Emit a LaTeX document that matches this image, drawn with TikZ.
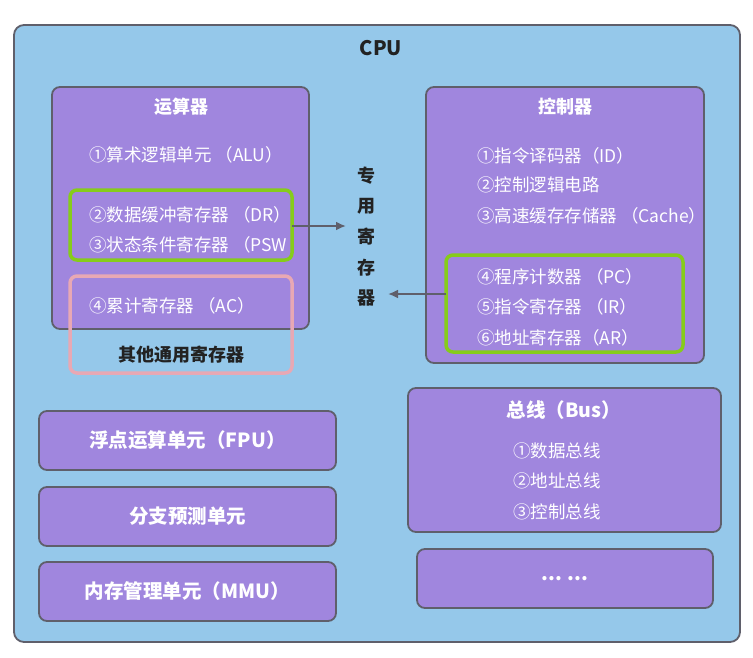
\documentclass[tikz,border=0pt]{standalone}
\usepackage{fontspec}
\setmainfont{Liberation Sans}
\newfontfamily\cjk{Noto Sans CJK SC}
\usetikzlibrary{arrows.meta}
\begin{document}
\begin{tikzpicture}[x=1pt,y=-1pt,
  box/.style={draw=bordc,line width=1.8pt,fill=purp,rounded corners=8pt},
  grn/.style={draw=grnc,line width=3.5pt,rounded corners=7pt},
  pnk/.style={draw=pnkc,line width=3.5pt,rounded corners=7pt},
  wt/.style={text=white,font=\cjk\fontsize{17.5}{20}\selectfont,anchor=west,inner sep=0pt},
  tt/.style={text=white,font=\cjk\bfseries\fontsize{18}{20}\selectfont},
  bt/.style={text=white,font=\cjk\bfseries\fontsize{19.5}{22}\selectfont},
  arr/.style={draw=arrc,line width=2pt,-{Latex[length=10pt,width=9pt]}}]
\definecolor{bg}{HTML}{95C8EA}
\definecolor{purp}{HTML}{A086DE}
\definecolor{bordc}{HTML}{5F5F6B}
\definecolor{grnc}{HTML}{86CC1A}
\definecolor{pnkc}{HTML}{E8A8B4}
\definecolor{arrc}{HTML}{5F5F6B}
\definecolor{dk}{HTML}{222222}
\useasboundingbox (0,0) rectangle (753,657);
\fill[white] (0,0) rectangle (753,657);
\draw[draw=bordc,line width=1.8pt,fill=bg,rounded corners=10pt] (14,25) rectangle (740,642);
\node[font=\cjk\bfseries\fontsize{20}{22}\selectfont,text=dk] (cpu) at (381,48) {CPU};
% ALU box
\draw[box] (52,87) rectangle (309,329);
\node[tt] (ys) at (181,107) {运算器};
\node[wt] (a1) at (89,155) {①算术逻辑单元 （ALU）};
\node[wt] (a2) at (89,215) {②数据缓冲寄存器 （DR）};
\node[wt] (a3) at (89,245) {③状态条件寄存器 （PSW};
\node[wt] (a4) at (89,306) {④累计寄存器 （AC）};
\draw[grn] (70,190) rectangle (292,260);
\draw[pnk] (70,276) rectangle (292,373);
\node[font=\cjk\bfseries\fontsize{18}{20}\selectfont,text=dk] (ty) at (181,355) {其他通用寄存器};
\coordinate (g1r) at (292,226);
% special regs
\foreach \ch/\yy [count=\i] in {专/176,用/206,寄/237,存/268,器/298}
  \node[font=\cjk\bfseries\fontsize{18}{20}\selectfont,text=dk] (zy\i) at (366,\yy) {\ch};
\coordinate (zyl) at (346,226);
\coordinate (zyr) at (388,294);
% control
\draw[box] (426,87) rectangle (704,363);
\node[tt] (kz) at (565,107) {控制器};
\node[wt] (c1) at (477,156) {①指令译码器（ID）};
\node[wt] (c2) at (477,185) {②控制逻辑电路};
\node[wt] (c3) at (477,216) {③高速缓存存储器 （Cache）};
\node[wt] (c4) at (477,277) {④程序计数器 （PC）};
\node[wt] (c5) at (477,307) {⑤指令寄存器 （IR）};
\node[wt] (c6) at (477,338) {⑥地址寄存器（AR）};
\draw[grn] (446,255) rectangle (683,352);
\coordinate (g2l) at (446,294);
\draw[arr] (g1r) -- (zyl);
\draw[arr] (g2l) -- (zyr);
% left bottom
\node[box,minimum width=297pt,minimum height=59pt,bt] (fpu) at (187.5,440.5) {浮点运算单元（FPU）};
\node[box,minimum width=297pt,minimum height=59pt,bt] (fz) at (187.5,516.5) {分支预测单元};
\node[box,minimum width=297pt,minimum height=59pt,bt] (mmu) at (187.5,591.5) {内存管理单元（MMU）};
% bus
\draw[box] (408,388) rectangle (721,532);
\node[bt] (bus) at (564,410) {总线（Bus）};
\node[wt] (b1) at (513,451) {①数据总线};
\node[wt] (b2) at (513,481) {②地址总线};
\node[wt] (b3) at (513,512) {③控制总线};
\node[box,minimum width=296pt,minimum height=59pt,bt] (dots) at (565,578.5) {... ...};
\end{tikzpicture}
\end{document}
